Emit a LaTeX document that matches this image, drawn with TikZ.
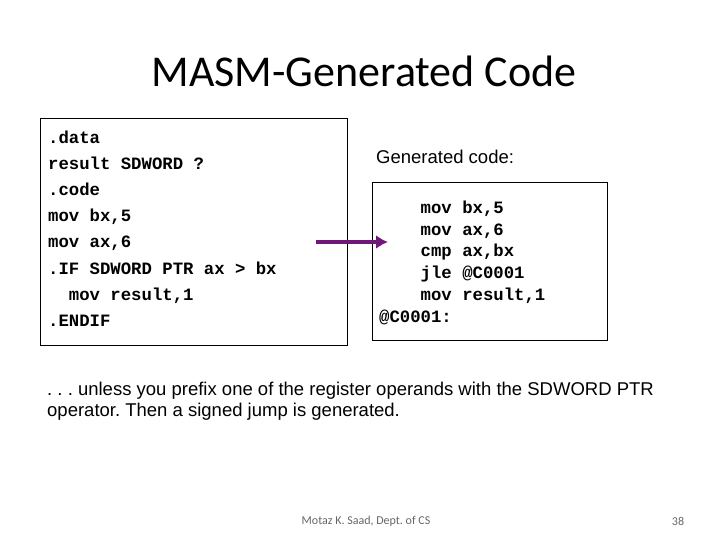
\documentclass[tikz,border=0pt]{standalone}
\usepackage{fontspec}
\setmainfont{Liberation Sans}
\newfontfamily\titlefont{Carlito}
\newfontfamily\codefont{Liberation Mono}
\definecolor{arrowpurple}{RGB}{112,24,120}
\frenchspacing
\tikzset{
  codebox/.style={draw=black, line width=0.8pt},
  code/.style={anchor=base west, inner sep=0pt, font=\codefont\bfseries\fontsize{17.3}{17.3}\selectfont},
  plain/.style={anchor=base west, inner sep=0pt, font=\fontsize{18.5}{18.5}\selectfont},
  arrow/.style={draw=arrowpurple, line width=3.5pt, -{Latex[length=12pt,width=14pt]}}
}
\usetikzlibrary{arrows.meta}
\begin{document}
\begin{tikzpicture}[x=1pt,y=-1pt]
\useasboundingbox (0,0) rectangle (728,546);
\node[inner sep=0pt, font=\titlefont\fontsize{44}{44}\selectfont] (title) at (364,71) {MASM-Generated Code};
% left box
\draw[codebox] (40,118) rectangle (347,345);
\node[code] (l1) at (48,143) {.data};
\node[code] (l2) at (48,169) {result SDWORD ?};
\node[code] (l3) at (48,195) {.code};
\node[code] (l4) at (48,221) {mov bx,5};
\node[code] (l5) at (48,247) {mov ax,6};
\node[code] (l6) at (48,274) {.IF SDWORD PTR ax > bx};
\node[code] (l7) at (48,300) {\ \ mov result,1};
\node[code] (l8) at (48,326) {.ENDIF};
% right side
\node[plain] (gen) at (376,163) {Generated code:};
\draw[codebox] (372,182) rectangle (607,340);
\node[code] (r1) at (379,213) {\ \ \ \ mov bx,5};
\node[code] (r2) at (379,235) {\ \ \ \ mov ax,6};
\node[code] (r3) at (379,256) {\ \ \ \ cmp ax,bx};
\node[code] (r4) at (379,278) {\ \ \ \ jle @C0001};
\node[code] (r5) at (379,300) {\ \ \ \ mov result,1};
\node[code] (r6) at (379,322) {@C0001:};
\coordinate (a0) at (316,242);
\coordinate (a1) at (388,242);
\draw[arrow] (a0) -- (a1);
% note
\node[plain] (n1) at (47,395) {. . . unless you prefix one of the register operands with the SDWORD PTR};
\node[plain] (n2) at (47,416) {operator. Then a signed jump is generated.};
% footer
\node[inner sep=0pt, font=\titlefont\fontsize{12}{12}\selectfont, text=gray!80!black] (foot) at (366,521) {Motaz K. Saad, Dept. of CS};
\node[inner sep=0pt, font=\titlefont\fontsize{12}{12}\selectfont, text=gray!80!black] (page) at (678,521) {38};
\end{tikzpicture}
\end{document}
